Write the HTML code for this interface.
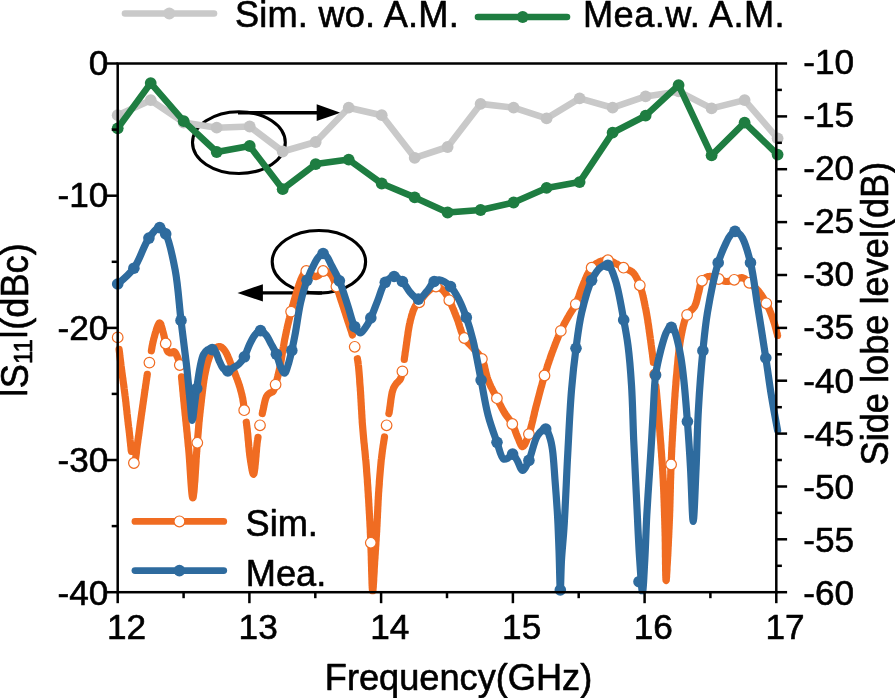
<!DOCTYPE html>
<html lang="en"><head><meta charset="utf-8"><title>S11 and side lobe level</title>
<style>html,body{margin:0;padding:0;background:#fff}body{width:895px;height:698px;overflow:hidden}svg{display:block}</style></head>
<body>
<svg width="895" height="698" viewBox="0 0 895 698" font-family="'Liberation Sans', Arial, Helvetica, sans-serif" fill="#000">
<rect width="895" height="698" fill="#fff"/>
<defs><clipPath id="pc"><rect x="111.7" y="63.5" width="670.6" height="530.7"/></clipPath></defs>
<g stroke="#000" stroke-width="3.1" fill="none">
<ellipse cx="238.9" cy="142.6" rx="46.4" ry="30.9"/>
<ellipse cx="318.9" cy="261.8" rx="46.7" ry="31.3"/>
<path d="M238,112.7H320" stroke-width="3.4"/>
<path d="M322,292.9H260" stroke-width="3.4"/>
</g>
<path d="M340.5,112.7L316.7,104.3V121.1Z"/>
<path d="M237.5,292.9L262.9,284.2V301.6Z"/>
<path d="M117.7,115.2 L150.7,100.2 L183.7,122.5 L216.7,127.7 L249.7,126.5 L282.7,151.5 L315.7,142.0 L348.7,107.7 L381.7,115.2 L414.7,157.8 L447.6,147.0 L480.6,103.9 L513.6,107.7 L546.6,118.4 L579.6,98.4 L612.6,107.7 L645.6,96.4 L678.6,91.4 L711.6,108.4 L744.6,100.1 L777.6,138.3" fill="none" stroke="#c9c9c9" stroke-width="6.6" stroke-linejoin="round" stroke-linecap="round"/>
<g fill="#c3c3c3"><circle cx="117.7" cy="115.2" r="5.9"/><circle cx="150.7" cy="100.2" r="5.9"/><circle cx="183.7" cy="122.5" r="5.9"/><circle cx="216.7" cy="127.7" r="5.9"/><circle cx="249.7" cy="126.5" r="5.9"/><circle cx="282.7" cy="151.5" r="5.9"/><circle cx="315.7" cy="142.0" r="5.9"/><circle cx="348.7" cy="107.7" r="5.9"/><circle cx="381.7" cy="115.2" r="5.9"/><circle cx="414.7" cy="157.8" r="5.9"/><circle cx="447.6" cy="147.0" r="5.9"/><circle cx="480.6" cy="103.9" r="5.9"/><circle cx="513.6" cy="107.7" r="5.9"/><circle cx="546.6" cy="118.4" r="5.9"/><circle cx="579.6" cy="98.4" r="5.9"/><circle cx="612.6" cy="107.7" r="5.9"/><circle cx="645.6" cy="96.4" r="5.9"/><circle cx="678.6" cy="91.4" r="5.9"/><circle cx="711.6" cy="108.4" r="5.9"/><circle cx="744.6" cy="100.1" r="5.9"/><circle cx="777.6" cy="138.3" r="5.9"/></g>
<path d="M117.7,128.3 L150.7,83.1 L183.7,121.2 L216.7,152.0 L249.7,146.0 L282.7,189.2 L315.7,164.1 L348.7,159.6 L381.7,183.5 L414.7,197.4 L447.6,212.5 L480.6,210.0 L513.6,202.5 L546.6,187.9 L579.6,182.1 L612.6,132.7 L645.6,115.7 L678.6,85.1 L711.6,155.3 L744.6,122.7 L777.6,154.6" fill="none" stroke="#1e7d41" stroke-width="6.6" stroke-linejoin="round" stroke-linecap="round"/>
<g fill="#1e7d41"><circle cx="117.7" cy="128.3" r="5.9"/><circle cx="150.7" cy="83.1" r="5.9"/><circle cx="183.7" cy="121.2" r="5.9"/><circle cx="216.7" cy="152.0" r="5.9"/><circle cx="249.7" cy="146.0" r="5.9"/><circle cx="282.7" cy="189.2" r="5.9"/><circle cx="315.7" cy="164.1" r="5.9"/><circle cx="348.7" cy="159.6" r="5.9"/><circle cx="381.7" cy="183.5" r="5.9"/><circle cx="414.7" cy="197.4" r="5.9"/><circle cx="447.6" cy="212.5" r="5.9"/><circle cx="480.6" cy="210.0" r="5.9"/><circle cx="513.6" cy="202.5" r="5.9"/><circle cx="546.6" cy="187.9" r="5.9"/><circle cx="579.6" cy="182.1" r="5.9"/><circle cx="612.6" cy="132.7" r="5.9"/><circle cx="645.6" cy="115.7" r="5.9"/><circle cx="678.6" cy="85.1" r="5.9"/><circle cx="711.6" cy="155.3" r="5.9"/><circle cx="744.6" cy="122.7" r="5.9"/><circle cx="777.6" cy="154.6" r="5.9"/></g>
<path clip-path="url(#pc)" d="M119.1,349.4 L119.3,350.9 L119.5,352.5 L119.7,354.0 L119.8,355.6 L120.0,357.1 L120.2,358.6 L120.4,360.1 L120.6,361.5 L120.7,362.9 L120.9,364.2 L121.0,365.4 L121.2,366.5 L121.3,367.6 L121.5,368.8 L121.6,369.9 L121.8,371.0 L121.9,372.2 L122.1,373.3 L122.2,374.4 L122.4,375.6 L122.5,376.7 L122.7,377.9 L122.9,379.0 L123.0,380.2 L123.2,381.3 L123.3,382.5 L123.5,383.6 L123.7,384.8 L123.8,385.9 L124.0,387.1 L124.1,388.3 L124.3,389.5 L124.4,390.6 L124.6,391.8 L124.7,393.0 L124.9,394.2 L125.0,395.4 L125.2,396.5 L125.3,397.6 L125.5,398.8 L125.6,399.9 L125.7,401.1 L125.9,402.2 L126.0,403.4 L126.1,404.5 L126.2,405.7 L126.4,406.8 L126.5,408.0 L126.6,409.2 L126.8,410.4 L126.9,411.5 L127.0,412.7 L127.1,413.9 L127.3,415.1 L127.4,416.2 L127.5,417.4 L127.7,418.6 L127.8,419.8 L127.9,421.0 L128.1,422.2 L128.2,423.3 L128.3,424.5 L128.5,425.7 L128.6,426.9 L128.8,428.0 L128.9,429.2 L129.1,430.4 L129.2,431.6 L129.4,432.9 L129.5,434.3 L129.7,435.7 L129.8,437.1 L130.0,438.6 L130.1,440.1 L130.3,441.7 L130.5,443.2 L130.6,444.8 L130.8,446.3 L131.0,447.9 L131.1,449.4 L131.3,450.9 L131.4,451.4M133.1,463.4 L133.3,464.0 L133.5,464.5 L133.6,464.8 L133.8,465.0 L134.0,465.0 L134.2,464.8 L134.4,464.5 L134.5,463.9 L134.7,463.2 L134.9,462.3 L135.1,461.3 L135.3,460.2 L135.5,459.0 L135.7,457.7 L135.9,456.3 L136.1,454.9 L136.3,453.4 L136.5,451.9 L136.6,450.3 L136.8,448.8 L137.0,447.3 L137.2,445.8 L137.4,444.3 L137.6,442.9 L137.8,441.6 L137.9,440.4 L138.1,439.2 L138.3,438.1 L138.4,436.9 L138.6,435.8 L138.8,434.6 L138.9,433.5 L139.1,432.4 L139.2,431.2 L139.4,430.1 L139.5,428.9 L139.7,427.8 L139.8,426.6 L140.0,425.5 L140.1,424.4 L140.3,423.2 L140.4,422.1 L140.6,420.9 L140.8,419.8 L140.9,418.6 L141.1,417.5 L141.2,416.3 L141.4,415.2 L141.6,414.0 L141.7,412.9 L141.9,411.7 L142.1,410.6 L142.2,409.4 L142.4,408.2 L142.6,407.0 L142.7,405.8 L142.9,404.7 L143.1,403.5 L143.2,402.3 L143.4,401.1 L143.6,400.0 L143.7,398.8 L143.9,397.7 L144.1,396.5 L144.2,395.4 L144.4,394.3 L144.5,393.2 L144.7,392.1 L144.8,391.0 L145.0,390.0 L145.2,388.8 L145.4,387.5 L145.5,386.3 L145.7,385.1 L145.9,383.9 L146.1,382.8 L146.2,381.6 L146.4,380.4 L146.6,379.3 L146.7,378.2 L146.9,377.1 L147.1,376.0 L147.2,375.0 L147.3,374.3M151.4,350.8 L151.6,349.5 L151.8,348.3 L152.0,347.1 L152.2,345.8 L152.5,344.6 L152.7,343.4 L153.0,342.3 L153.2,341.2 L153.5,340.1 L153.7,339.0 L154.0,338.0 L154.4,336.7 L154.7,335.4 L155.1,334.0 L155.5,332.5 L156.0,331.1 L156.4,329.7 L156.8,328.3 L157.3,327.0 L157.7,325.9 L158.2,324.9 L158.6,324.1 L159.0,323.4 L159.3,323.0 L159.7,322.9 L160.1,323.1 L160.6,323.7 L161.0,324.7 L161.3,325.8 L161.7,327.1 L162.1,328.5 L162.4,329.9 L162.8,331.2 L163.1,332.3 L163.4,333.4 L163.7,334.5 L164.0,335.6 L164.2,336.7 L164.5,337.8 L164.7,338.9 L164.9,340.0 L165.2,341.1 L165.4,342.1 L165.6,343.2 L165.9,344.3 L166.1,345.5 L166.3,346.7 L166.4,347.8 L166.7,348.9 L166.9,349.9 L167.3,350.8 L167.7,351.5 L168.5,352.2 L169.4,352.7 L170.4,353.0 L171.3,353.0 L172.2,352.4 L173.1,351.7 L174.0,351.5 L174.6,351.9 L175.2,352.6 L175.8,353.5 L176.3,354.6 L176.8,355.7 L177.3,356.6 L177.6,357.4 L178.0,358.3 L178.3,359.2 L178.6,360.2 L178.9,361.3 L179.2,362.4 L179.5,363.6 L179.7,364.5M181.5,376.8 L181.6,378.0 L181.7,379.2 L181.9,380.4 L182.0,381.7 L182.1,382.9 L182.2,384.2 L182.4,385.4 L182.5,386.7 L182.6,388.0 L182.7,389.3 L182.8,390.6 L183.0,391.9 L183.1,393.2 L183.2,394.6 L183.3,395.9 L183.5,397.2 L183.6,398.5 L183.7,399.7 L183.8,401.0 L184.0,402.3 L184.1,403.4 L184.2,404.5 L184.3,405.6 L184.4,406.8 L184.5,407.9 L184.7,409.0 L184.8,410.2 L184.9,411.3 L185.0,412.5 L185.1,413.6 L185.2,414.8 L185.4,416.0 L185.5,417.1 L185.6,418.3 L185.7,419.5 L185.8,420.7 L186.0,421.9 L186.1,423.1 L186.2,424.3 L186.3,425.5 L186.5,426.7 L186.6,427.9 L186.7,429.1 L186.8,430.3 L186.9,431.5 L187.1,432.7 L187.2,433.9 L187.3,435.1 L187.4,436.4 L187.5,437.6 L187.7,438.8 L187.8,440.0 L187.9,441.2 L188.0,442.4 L188.1,443.5 L188.2,444.7 L188.3,445.9 L188.5,447.1 L188.6,448.3 L188.7,449.4 L188.8,450.6 L188.9,451.8 L189.0,452.9 L189.1,454.1 L189.2,455.4 L189.3,456.8 L189.4,458.1 L189.5,459.6 L189.6,461.0 L189.7,462.5 L189.8,464.0 L189.9,465.5 L190.0,467.1 L190.1,468.7 L190.2,470.2 L190.3,471.8 L190.4,473.4 L190.5,474.9 L190.6,476.5 L190.7,478.0 L190.8,479.5 L190.9,481.0 L191.0,482.4 L191.1,483.9 L191.2,485.2 L191.3,486.6 L191.4,487.8 L191.5,489.1 L191.6,490.2 L191.7,491.3 L191.8,492.4 L191.9,493.4 L192.0,494.2 L192.1,495.0 L192.2,495.8 L192.3,496.4 L192.4,496.9 L192.5,497.4 L192.6,497.7 L192.7,497.9 L192.8,498.0 L192.9,498.0 L193.0,497.8 L193.1,497.5 L193.2,497.1 L193.3,496.5 L193.4,495.9 L193.5,495.1 L193.6,494.2 L193.7,493.3 L193.9,492.2 L194.0,491.1 L194.1,489.9 L194.2,488.6 L194.3,487.3 L194.4,485.9 L194.5,484.4 L194.6,482.9 L194.8,481.4 L194.9,479.9 L195.0,478.3 L195.1,476.7 L195.2,475.1 L195.3,473.5 L195.4,471.9 L195.5,470.3 L195.6,468.7 L195.7,467.2 L195.8,465.7 L195.9,464.2 L196.0,462.7 L196.1,461.3 L196.1,460.0 L196.2,458.7 L196.3,457.5 L196.4,456.3 L196.4,455.3 L196.5,454.3 L196.6,453.4 L196.6,452.4 L196.8,451.1 L196.8,449.9 L196.9,448.9 L197.0,447.9 L197.0,447.0 L197.1,446.0 L197.2,444.9 L197.2,443.7 L197.3,442.5 L197.4,441.6 L197.5,440.7 L197.5,439.8 L197.6,438.8 L197.7,437.8 L197.8,436.7 L197.9,435.6 L198.0,434.5 L198.1,433.4 L198.2,432.2 L198.3,431.0 L198.4,429.8 L198.5,428.6 L198.6,427.4 L198.7,426.1 L198.8,424.9 L198.9,423.6 L199.0,422.3 L199.2,421.0 L199.3,419.8 L199.4,418.5 L199.5,417.2 L199.7,416.0 L199.8,414.7 L199.9,413.5 L200.1,412.2 L200.2,411.0 L200.3,409.8 L200.5,408.7 L200.6,407.5 L200.7,406.4 L200.9,405.2 L201.0,404.0 L201.1,402.8 L201.3,401.6 L201.4,400.3 L201.5,399.1 L201.7,397.9 L201.8,396.6 L202.0,395.4 L202.1,394.2 L202.3,392.9 L202.4,391.7 L202.6,390.4 L202.7,389.2 L202.9,388.0 L203.0,386.8 L203.2,385.6 L203.3,384.4 L203.5,383.2 L203.7,382.1 L203.8,380.9 L204.0,379.8 L204.2,378.7 L204.4,377.6 L204.5,376.6 L204.7,375.5 L204.9,374.5 L205.1,373.6 L205.3,372.6 L205.6,371.3 L205.9,370.0 L206.1,368.7 L206.4,367.5 L206.7,366.3 L207.0,365.1 L207.3,363.9 L207.6,362.8 L207.9,361.7 L208.3,360.6 L208.6,359.6 L208.9,358.6 L209.3,357.6 L209.6,356.7 L210.0,355.8 L210.4,355.0 L211.0,353.9 L211.6,352.8 L212.1,351.8 L212.8,350.9 L213.4,350.1 L214.1,349.4 L214.8,348.7 L215.6,348.0 L216.6,347.4 L217.6,346.9 L218.6,346.5 L219.6,346.5 L220.5,346.7 L221.3,347.1 L222.2,347.7 L223.0,348.5 L223.8,349.4 L224.5,350.3 L225.2,351.3 L225.7,352.0 L226.2,352.9 L226.7,353.8 L227.2,354.8 L227.6,355.8 L228.1,356.9 L228.5,358.0 L229.0,359.1 L229.4,360.2 L229.9,361.4 L230.4,362.6 L230.8,363.5 L231.2,364.5 L231.6,365.5 L232.1,366.5 L232.5,367.6 L233.0,368.7 L233.4,369.8 L233.9,370.9 L234.4,372.1 L234.8,373.2 L235.3,374.4 L235.7,375.6 L236.2,376.7 L236.6,377.9 L237.1,379.0 L237.5,380.1 L237.9,381.3 L238.3,382.3 L238.6,383.4 L239.0,384.4 L239.3,385.5 L239.7,386.7 L240.1,387.9 L240.4,389.1 L240.7,390.2 L241.0,391.3 L241.3,392.5 L241.6,393.6 L241.9,394.7 L242.1,395.7 L242.3,396.8 L242.6,397.8 L242.8,398.9 L242.9,399.9 L243.1,401.0 L243.3,402.2 L243.5,403.3 L243.6,404.3 L243.7,405.4 L243.8,406.4 L243.9,407.5 L244.0,408.6 L244.1,409.8 L244.1,409.8M246.3,422.2 L246.5,423.5 L246.6,424.8 L246.8,425.9 L246.9,426.9 L247.0,427.9 L247.2,429.0 L247.3,430.1 L247.4,431.3 L247.5,432.4 L247.7,433.6 L247.8,434.9 L247.9,436.1 L248.0,437.4 L248.1,438.7 L248.2,439.9 L248.4,441.2 L248.5,442.5 L248.6,443.8 L248.7,445.1 L248.8,446.4 L249.0,447.7 L249.1,448.9 L249.2,450.2 L249.3,451.4 L249.5,452.6 L249.6,453.8 L249.7,454.9 L249.9,456.1 L250.0,457.1 L250.2,458.2 L250.3,459.2 L250.5,460.1 L250.6,461.3 L250.9,462.8 L251.1,464.3 L251.4,465.8 L251.6,467.3 L251.9,468.8 L252.1,470.1 L252.4,471.3 L252.6,472.3 L252.9,473.2 L253.1,473.8 L253.4,474.1 L253.6,474.2 L253.7,474.0 L253.9,473.7 L254.0,473.2 L254.2,472.6 L254.3,471.9 L254.4,471.0 L254.6,470.0 L254.7,469.0 L254.9,467.8 L255.0,466.5 L255.1,465.2 L255.3,463.8 L255.4,462.3 L255.6,460.8 L255.7,459.3 L255.8,457.8 L256.0,456.2 L256.1,454.6 L256.2,453.1 L256.4,451.5 L256.5,450.0 L256.6,448.5 L256.7,447.1 L256.9,445.7 L257.0,444.4 L257.1,443.2 L257.3,442.0 L257.4,440.9 L257.6,439.9 L257.8,438.6 L258.0,437.3 L258.0,437.3M262.3,413.5 L262.5,412.4 L262.8,411.3 L263.0,410.2 L263.3,409.1 L263.5,407.9 L263.8,406.7 L264.0,405.4 L264.3,404.2 L264.5,403.0 L264.8,401.8 L265.1,400.6 L265.4,399.5 L265.7,398.5 L266.1,397.6 L266.4,396.7 L266.8,396.0 L267.5,395.0 L268.2,394.3 L269.0,393.7 L269.7,393.2 L270.6,392.7 L271.6,392.3 L272.5,391.9 L273.2,391.3 L273.6,390.5 L274.0,389.6 L274.4,388.6 L274.8,387.5 L275.1,386.3 L275.5,385.0 L275.8,384.0 L276.1,383.1 L276.3,382.2 L276.6,381.2 L276.9,380.2 L277.1,379.1 L277.4,378.0 L277.7,376.9 L278.0,375.8 L278.2,374.6 L278.5,373.4 L278.8,372.2 L279.1,370.9 L279.4,369.7 L279.6,368.8 L279.8,367.8 L280.0,366.8 L280.2,365.7 L280.4,364.7 L280.6,363.6 L280.8,362.5 L281.0,361.3 L281.2,360.1 L281.4,358.9 L281.6,357.7 L281.8,356.5 L282.0,355.3 L282.2,354.1 L282.4,352.8 L282.6,351.6 L282.8,350.3 L283.0,349.1 L283.2,347.8 L283.5,346.6 L283.7,345.3 L283.9,344.1 L284.1,342.9 L284.3,341.7 L284.5,340.5 L284.7,339.4 L285.0,338.2 L285.2,337.1 L285.4,336.1 L285.6,335.0 L285.9,333.8 L286.1,332.6 L286.4,331.4 L286.6,330.2 L286.9,329.0 L287.1,327.9 L287.4,326.8 L287.6,325.6 L287.9,324.5 L288.2,323.4 L288.4,322.3 L288.7,321.3 L288.9,320.2 L289.2,319.1 L289.5,318.0 L289.7,316.9 L290.0,315.8 L290.3,314.6 L290.6,313.5 L290.9,312.4 L291.2,311.2 L291.5,310.1 L291.8,309.0 L292.1,307.9 L292.4,306.7 L292.8,305.5 L293.1,304.4 L293.4,303.2 L293.8,302.0 L294.1,300.8 L294.4,299.6 L294.8,298.4 L295.1,297.2 L295.5,296.0 L295.8,294.9 L296.1,293.7 L296.5,292.6 L296.8,291.5 L297.1,290.4 L297.5,289.4 L297.8,288.4 L298.1,287.4 L298.4,286.5 L298.7,285.6 L299.1,284.5 L299.5,283.2 L299.9,282.1 L300.4,280.9 L300.8,279.9 L301.2,278.8 L301.6,277.9 L302.0,277.0 L302.4,276.1 L302.9,275.3 L303.4,274.3 L304.0,273.3 L304.6,272.3 L305.3,271.5 L306.0,271.1 L306.8,271.0 L307.7,271.5 L308.6,272.2 L309.5,273.1 L310.4,273.9 L311.3,274.5 L312.2,275.1 L313.0,275.7 L313.9,276.2 L314.7,276.5 L315.6,276.6 L316.6,276.4 L317.5,276.1 L318.5,275.6 L319.2,275.0 L320.0,274.1 L320.7,273.1 L321.4,272.2 L322.2,271.4 L323.1,271.0 L324.1,270.9 L325.1,271.0 L326.2,271.3 L327.3,271.7 L328.4,272.3 L329.4,273.0 L330.2,273.7 L330.8,274.4 L331.4,275.2 L332.0,276.1 L332.5,277.0 L333.0,278.1 L333.5,279.2 L334.0,280.3 L334.5,281.5 L334.9,282.6 L335.4,283.8 L335.8,285.0 L336.3,286.1 L336.7,287.2 L337.1,288.2 L337.5,289.2 L337.8,290.3 L338.2,291.3 L338.6,292.4 L338.9,293.5 L339.3,294.6 L339.6,295.7 L340.0,296.8 L340.3,297.9 L340.7,299.0 L341.0,300.1 L341.4,301.2 L341.8,302.3 L342.1,303.4 L342.5,304.4 L342.8,305.5 L343.2,306.6 L343.6,307.7 L343.9,308.8 L344.3,309.9 L344.6,311.0 L345.0,312.1 L345.4,313.2 L345.7,314.3 L346.1,315.4 L346.4,316.5 L346.8,317.6 L347.1,318.6 L347.5,319.7 L347.8,320.8 L348.2,321.9 L348.6,323.0 L348.9,324.1 L349.3,325.2 L349.7,326.4 L350.1,327.5 L350.4,328.6 L350.8,329.7 L351.2,330.8 L351.5,331.8 L351.8,332.9 L352.1,334.0 L352.4,335.0 L352.4,335.0M357.4,358.7 L357.6,359.9 L357.8,361.0 L357.9,362.0 L358.1,363.0 L358.2,364.0 L358.3,365.1 L358.5,366.1 L358.6,367.2 L358.7,368.3 L358.8,369.5 L358.9,370.6 L359.0,371.8 L359.1,372.9 L359.2,374.1 L359.3,375.3 L359.4,376.5 L359.5,377.7 L359.6,379.0 L359.7,380.3 L359.7,381.5 L359.8,382.8 L359.9,384.1 L360.0,385.3 L360.1,386.4 L360.2,387.4 L360.3,388.5 L360.3,389.6 L360.4,390.6 L360.5,391.8 L360.6,392.9 L360.6,394.0 L360.7,395.1 L360.8,396.3 L360.8,397.5 L360.9,398.6 L361.0,399.8 L361.0,401.0 L361.1,402.2 L361.2,403.4 L361.2,404.6 L361.3,405.8 L361.4,407.0 L361.4,408.3 L361.5,409.5 L361.6,410.7 L361.7,411.9 L361.7,413.2 L361.8,414.4 L361.9,415.6 L361.9,416.8 L362.0,418.1 L362.1,419.3 L362.2,420.5 L362.2,421.7 L362.3,422.9 L362.4,424.1 L362.5,425.3 L362.6,426.4 L362.7,427.6 L362.8,428.8 L362.9,430.0 L363.0,431.1 L363.1,432.3 L363.2,433.5 L363.3,434.6 L363.4,435.8 L363.5,436.9 L363.6,438.1 L363.7,439.2 L363.8,440.4 L363.9,441.5 L364.0,442.7 L364.2,443.8 L364.3,445.0 L364.4,446.1 L364.5,447.3 L364.6,448.4 L364.7,449.6 L364.9,450.7 L365.0,451.9 L365.1,453.1 L365.2,454.2 L365.3,455.4 L365.4,456.6 L365.5,457.7 L365.6,458.9 L365.8,460.1 L365.9,461.3 L366.0,462.5 L366.1,463.7 L366.2,464.9 L366.3,466.1 L366.4,467.4 L366.5,468.6 L366.6,469.7 L366.6,470.9 L366.7,472.0 L366.8,473.2 L366.9,474.4 L367.0,475.6 L367.1,476.8 L367.2,478.0 L367.3,479.2 L367.4,480.4 L367.4,481.7 L367.5,482.9 L367.6,484.2 L367.7,485.4 L367.8,486.7 L367.9,488.0 L367.9,489.2 L368.0,490.5 L368.1,491.8 L368.2,493.1 L368.3,494.3 L368.3,495.6 L368.4,496.9 L368.5,498.1 L368.6,499.4 L368.7,500.6 L368.7,501.8 L368.8,503.1 L368.9,504.3 L368.9,505.5 L369.0,506.7 L369.1,507.9 L369.1,509.0 L369.2,510.2 L369.3,511.3 L369.3,512.5 L369.4,513.6 L369.5,514.6 L369.5,515.7 L369.6,516.7 L369.6,517.8 L369.7,518.8 L369.7,519.7 L369.8,520.7 L369.9,521.9 L369.9,523.2 L370.0,524.5 L370.0,525.7 L370.1,526.8 L370.2,527.9 L370.2,529.0 L370.3,530.0 L370.3,531.1 L370.3,532.1 L370.4,533.1 L370.4,534.2 L370.5,535.2 L370.5,536.3 L370.6,537.4 L370.6,538.6 L370.7,539.8 L370.7,541.0 L370.8,542.3 L370.8,543.5 L370.9,544.5 L370.9,545.6 L371.0,546.8 L371.0,548.0 L371.0,549.3 L371.1,550.7 L371.1,552.1 L371.2,553.5 L371.2,555.0 L371.3,556.5 L371.3,558.0 L371.3,559.6 L371.4,561.1 L371.4,562.7 L371.5,564.3 L371.5,565.9 L371.6,567.5 L371.6,569.0 L371.6,570.6 L371.7,572.1 L371.7,573.6 L371.8,575.1 L371.8,576.6 L371.9,578.0 L371.9,579.4 L372.0,580.7 L372.0,582.0 L372.0,583.2 L372.1,584.3 L372.1,585.4 L372.2,586.4 L372.2,587.3 L372.3,588.1 L372.3,588.9 L372.4,589.5 L372.5,590.1 L372.5,590.5 L372.6,590.9 L372.6,591.1 L372.7,591.2 L372.7,591.2 L372.8,591.0 L372.9,590.6 L373.0,590.1 L373.0,589.4 L373.1,588.6 L373.2,587.7 L373.3,586.7 L373.3,585.6 L373.4,584.4 L373.5,583.1 L373.6,581.7 L373.7,580.3 L373.7,578.8 L373.8,577.3 L373.9,575.8 L374.0,574.2 L374.1,572.7 L374.2,571.1 L374.2,569.6 L374.3,568.0 L374.4,566.6 L374.5,565.1 L374.6,563.7 L374.6,562.4 L374.7,561.2 L374.8,560.0 L374.9,558.8 L375.0,557.6 L375.0,556.4 L375.1,555.3 L375.2,554.1 L375.3,553.0 L375.3,551.9 L375.4,550.8 L375.5,549.7 L375.6,548.6 L375.6,547.5 L375.7,546.4 L375.8,545.3 L375.9,544.1 L375.9,543.0 L376.0,541.8 L376.1,540.7 L376.2,539.5 L376.2,538.3 L376.3,537.0 L376.4,535.7 L376.5,534.4 L376.5,533.3 L376.6,532.3 L376.7,531.2 L376.7,530.2 L376.8,529.1 L376.8,528.0 L376.9,526.8 L377.0,525.7 L377.0,524.5 L377.1,523.3 L377.1,522.1 L377.2,520.9 L377.2,519.7 L377.3,518.5 L377.4,517.3 L377.4,516.1 L377.5,514.8 L377.5,513.6 L377.6,512.3 L377.7,511.1 L377.7,509.8 L377.8,508.6 L377.8,507.3 L377.9,506.1 L378.0,504.8 L378.0,503.6 L378.1,502.3 L378.1,501.1 L378.2,499.9 L378.3,498.7 L378.3,497.5 L378.4,496.3 L378.5,495.1 L378.5,494.0 L378.6,492.8 L378.7,491.7 L378.8,490.6 L378.8,489.5 L378.9,488.4 L379.0,487.3 L379.1,486.1 L379.2,484.9 L379.3,483.6 L379.3,482.3 L379.4,481.1 L379.5,479.9 L379.6,478.7 L379.7,477.5 L379.8,476.3 L379.9,475.1 L380.0,473.9 L380.1,472.7 L380.2,471.6 L380.3,470.5 L380.4,469.3 L380.5,468.2 L380.6,467.1 L380.7,466.0 L380.8,464.9 L380.9,463.8 L381.0,462.7 L381.1,461.6 L381.2,460.5 L381.3,459.4 L381.5,458.4 L381.6,457.2 L381.8,455.9 L381.9,454.7 L382.1,453.5 L382.2,452.3 L382.4,451.0 L382.5,449.8 L382.7,448.7 L382.9,447.5 L383.0,446.3 L383.2,445.2 L383.4,444.0 L383.6,442.9 L383.7,441.8 L383.9,440.8 L384.1,439.7 L384.2,438.7 L384.4,437.7 L384.5,437.0M388.9,413.5 L389.2,412.4 L389.3,411.3 L389.5,410.2 L389.7,409.1 L389.8,407.9 L390.0,406.7 L390.2,405.4 L390.3,404.2 L390.5,402.9 L390.7,401.6 L390.8,400.3 L391.0,399.1 L391.2,397.8 L391.4,396.6 L391.6,395.4 L391.8,394.3 L392.0,393.3 L392.2,392.2 L392.5,391.3 L392.7,390.5 L393.1,389.4 L393.5,388.2 L394.0,387.2 L394.5,386.3 L395.0,385.4 L395.6,384.6 L396.2,383.7 L396.9,382.9 L397.6,382.2 L398.4,381.5 L399.1,380.7 L399.8,379.9 L400.4,379.0 L400.8,378.1 L401.1,377.2 L401.4,376.2 L401.6,375.2 L401.8,374.2 L402.1,373.1 L402.3,371.8 L402.3,371.8M404.3,359.5 L404.4,358.3 L404.6,357.0 L404.8,355.8 L405.0,354.5 L405.1,353.2 L405.3,351.9 L405.5,350.8 L405.7,349.7 L405.8,348.7 L406.0,347.5 L406.1,346.4 L406.3,345.2 L406.5,344.0 L406.6,342.8 L406.8,341.6 L407.0,340.4 L407.1,339.1 L407.3,337.9 L407.5,336.6 L407.7,335.4 L407.9,334.2 L408.0,332.9 L408.2,331.7 L408.4,330.5 L408.6,329.3 L408.8,328.1 L409.0,327.0 L409.2,325.9 L409.4,324.8 L409.6,323.7 L409.9,322.7 L410.1,321.7 L410.3,320.7 L410.6,319.5 L411.0,318.2 L411.3,317.0 L411.6,315.7 L412.0,314.5 L412.4,313.3 L412.7,312.2 L413.1,311.1 L413.5,310.0 L413.9,309.1 L414.3,308.1 L414.7,307.3 L415.1,306.5 L415.6,305.7 L416.4,304.8 L417.1,304.2 L417.9,303.6 L418.7,302.9 L419.4,302.1 L420.0,301.3 L420.6,300.5 L421.3,299.6 L422.0,298.6 L422.6,297.7 L423.4,296.7 L424.1,295.7 L424.9,294.8 L425.6,293.9 L426.4,293.1 L427.3,292.3 L428.2,291.4 L429.1,290.6 L430.0,289.8 L431.0,289.0 L432.0,288.2 L432.9,287.6 L433.9,287.1 L434.8,286.7 L435.7,286.5 L436.7,286.5 L437.7,286.7 L438.7,287.1 L439.6,287.6 L440.6,288.3 L441.5,289.0 L442.4,289.8 L443.2,290.5 L443.9,291.3 L444.5,292.1 L445.2,292.9 L445.8,293.8 L446.3,294.7 L446.9,295.7 L447.5,296.7 L448.0,297.8 L448.6,298.8 L449.1,299.9 L449.6,300.9 L450.1,301.8 L450.5,302.8 L451.0,303.8 L451.5,304.8 L451.9,305.8 L452.4,306.9 L452.8,308.0 L453.3,309.0 L453.7,310.1 L454.2,311.2 L454.6,312.4 L455.1,313.5 L455.5,314.6 L455.9,315.7 L456.4,316.8 L456.8,317.9 L457.2,318.9 L457.6,320.0 L458.0,321.1 L458.4,322.2 L458.7,323.4 L459.1,324.5 L459.5,325.7 L459.8,326.8 L460.2,328.0 L460.6,329.1 L460.9,330.3 L461.3,331.4 L461.7,332.5 L462.1,333.5 L462.6,334.6 L463.0,335.6 L463.5,336.5 L464.0,337.4 L464.5,338.4 L465.2,339.4 L465.9,340.3 L466.6,341.2 L467.4,342.1 L468.2,342.9 L468.9,343.7 L469.7,344.5 L470.5,345.3 L471.3,346.1 L472.1,346.9 L472.9,347.7 L473.6,348.6 L474.3,349.4 L475.1,350.2 L475.8,351.0 L476.6,351.9 L477.4,352.7 L478.1,353.6 L478.8,354.4 L479.5,355.3 L480.2,356.3 L480.9,357.3 L481.5,358.3 L482.1,359.3 L482.5,360.2 L482.9,361.2 L483.3,362.3 L483.6,363.3 L484.0,364.4 L484.3,365.5 L484.6,366.7 L484.8,367.8 L485.1,369.0 L485.4,370.2 L485.6,371.3 L485.9,372.5 L486.2,373.7 L486.5,374.9 L486.8,376.0 L487.1,377.2 L487.5,378.3 L487.8,379.4 L488.2,380.5 L488.7,381.6 L489.2,382.7 L489.6,383.7 L490.1,384.8 L490.6,385.9 L491.1,387.0 L491.7,388.0 L492.2,389.1 L492.7,390.1 L493.2,391.1 L493.8,392.2 L494.3,393.2 L494.8,394.2 L495.4,395.2 L495.9,396.2 L496.4,397.2 L496.9,398.2 L497.4,399.3 L498.0,400.3 L498.5,401.4 L499.0,402.4 L499.5,403.5 L500.1,404.5 L500.6,405.5 L501.1,406.5 L501.6,407.5 L502.1,408.5 L502.7,409.5 L503.2,410.5 L503.8,411.4 L504.3,412.4 L504.9,413.4 L505.6,414.4 L506.2,415.3 L506.9,416.2 L507.6,417.1 L508.3,418.0 L509.0,419.0 L509.6,419.9 L510.3,420.8 L510.9,421.7 L511.5,422.7 L512.1,423.7 L512.6,424.7 L513.1,425.7 L513.6,426.7 L514.0,427.8 L514.5,428.9 L514.9,430.0 L515.3,431.1 L515.7,432.2 L516.1,433.3 L516.5,434.3 L516.9,435.4 L517.3,436.4 L517.7,437.4 L518.2,438.4 L518.7,439.6 L519.2,441.0 L519.7,442.3 L520.3,443.5 L520.8,444.7 L521.3,445.6 L521.9,446.3 L522.4,446.6 L522.9,446.5 L523.4,446.2 L523.9,445.7 L524.5,444.9 L525.0,444.0 L525.5,442.9 L526.1,441.7 L526.6,440.4 L527.1,439.0 L527.6,437.7 L528.1,436.3 L528.6,435.0 L529.0,433.8 L529.3,432.9 L529.6,432.0 L530.0,431.0 L530.3,430.0 L530.6,428.9 L530.9,427.9 L531.2,426.8 L531.4,425.7 L531.7,424.6 L532.0,423.4 L532.3,422.2 L532.6,421.1 L532.9,419.9 L533.1,418.7 L533.4,417.5 L533.7,416.3 L534.0,415.1 L534.3,413.9 L534.5,412.7 L534.8,411.5 L535.1,410.3 L535.4,409.1 L535.7,407.9 L536.0,406.7 L536.3,405.6 L536.6,404.5 L536.9,403.3 L537.2,402.2 L537.5,401.1 L537.8,399.9 L538.1,398.8 L538.4,397.7 L538.7,396.5 L539.0,395.4 L539.3,394.2 L539.6,393.1 L539.9,391.9 L540.2,390.8 L540.5,389.6 L540.8,388.5 L541.1,387.3 L541.5,386.2 L541.8,385.1 L542.1,383.9 L542.4,382.8 L542.7,381.7 L543.0,380.6 L543.3,379.5 L543.7,378.4 L544.0,377.3 L544.3,376.2 L544.6,375.1 L545.0,374.0 L545.3,372.8 L545.7,371.7 L546.0,370.5 L546.4,369.4 L546.8,368.3 L547.1,367.2 L547.5,366.0 L547.8,364.9 L548.2,363.8 L548.6,362.7 L549.0,361.6 L549.3,360.5 L549.7,359.5 L550.1,358.4 L550.4,357.3 L550.8,356.2 L551.2,355.2 L551.6,354.1 L551.9,353.1 L552.3,352.0 L552.7,351.0 L553.1,349.9 L553.5,348.7 L554.0,347.6 L554.4,346.5 L554.8,345.4 L555.2,344.3 L555.6,343.2 L556.1,342.1 L556.5,341.0 L556.9,339.9 L557.4,338.8 L557.8,337.8 L558.2,336.7 L558.7,335.7 L559.1,334.6 L559.6,333.6 L560.0,332.6 L560.5,331.6 L561.0,330.5 L561.5,329.4 L562.0,328.4 L562.5,327.3 L563.1,326.3 L563.6,325.2 L564.1,324.2 L564.7,323.2 L565.2,322.1 L565.8,321.1 L566.3,320.2 L566.9,319.2 L567.4,318.2 L567.9,317.3 L568.5,316.3 L569.0,315.4 L569.6,314.4 L570.2,313.4 L570.8,312.4 L571.4,311.5 L572.0,310.6 L572.6,309.7 L573.2,308.8 L573.7,307.9 L574.3,306.9 L574.9,305.9 L575.4,304.8 L575.9,303.8 L576.4,302.8 L576.8,301.8 L577.2,300.8 L577.6,299.7 L578.0,298.7 L578.4,297.6 L578.8,296.5 L579.2,295.3 L579.6,294.2 L579.9,293.1 L580.3,291.9 L580.7,290.8 L581.1,289.7 L581.5,288.6 L581.9,287.5 L582.4,286.4 L582.8,285.3 L583.3,284.2 L583.7,283.1 L584.2,282.0 L584.7,280.9 L585.1,279.7 L585.6,278.6 L586.1,277.5 L586.6,276.3 L587.1,275.2 L587.6,274.2 L588.2,273.1 L588.7,272.1 L589.3,271.1 L589.8,270.2 L590.4,269.3 L591.0,268.5 L591.6,267.7 L592.4,266.8 L593.3,265.9 L594.2,265.1 L595.1,264.4 L596.0,263.7 L596.9,263.1 L597.9,262.6 L598.8,262.1 L599.8,261.7 L600.8,261.3 L601.8,260.9 L602.9,260.6 L603.9,260.3 L605.0,260.2 L606.1,260.1 L607.2,260.1 L608.2,260.3 L609.3,260.5 L610.3,260.8 L611.3,261.3 L612.4,261.8 L613.4,262.3 L614.4,262.8 L615.4,263.4 L616.4,263.8 L617.4,264.3 L618.3,264.9 L619.3,265.4 L620.2,265.9 L621.2,266.4 L622.1,267.0 L623.1,267.5 L624.1,268.0 L625.1,268.5 L626.1,268.9 L627.1,269.3 L628.2,269.8 L629.2,270.2 L630.2,270.7 L631.2,271.3 L632.2,271.9 L633.0,272.7 L633.7,273.4 L634.3,274.2 L635.0,275.1 L635.5,276.0 L636.1,277.0 L636.6,277.9 L637.2,279.0 L637.6,280.0 L638.1,281.1 L638.6,282.2 L639.0,283.4 L639.5,284.5 L639.9,285.6 L640.3,286.6 L640.6,287.6 L641.0,288.6 L641.3,289.6 L641.6,290.7 L641.9,291.8 L642.2,292.8 L642.5,294.0 L642.8,295.1 L643.0,296.2 L643.3,297.4 L643.6,298.6 L643.8,299.8 L644.1,300.9 L644.3,302.2 L644.6,303.4 L644.8,304.6 L645.1,305.8 L645.3,307.1 L645.6,308.3 L645.8,309.3 L646.0,310.4 L646.2,311.5 L646.4,312.6 L646.6,313.7 L646.8,314.8 L647.0,316.0 L647.2,317.1 L647.4,318.3 L647.6,319.5 L647.8,320.7 L647.9,321.8 L648.1,323.0 L648.3,324.2 L648.5,325.4 L648.7,326.6 L648.8,327.8 L649.0,329.0 L649.2,330.2 L649.3,331.4 L649.5,332.6 L649.7,333.8 L649.8,335.0 L650.0,336.2 L650.2,337.4 L650.3,338.6 L650.5,339.7 L650.7,340.9 L650.8,342.1 L651.0,343.2 L651.1,344.4 L651.3,345.5 L651.4,346.6 L651.6,347.8 L651.7,348.9 L651.9,350.0 L652.0,351.1 L652.2,352.2 L652.3,353.3 L652.5,354.5 L652.6,355.6 L652.7,356.7 L652.9,357.8 L653.0,359.0 L653.2,360.1 L653.3,361.3 L653.4,362.5 L653.4,362.5M655.9,386.3 L656.0,387.5 L656.1,388.7 L656.3,389.8 L656.4,391.0 L656.5,392.2 L656.6,393.4 L656.7,394.6 L656.8,395.8 L656.9,397.0 L657.0,398.2 L657.1,399.5 L657.2,400.7 L657.4,401.9 L657.5,403.1 L657.6,404.4 L657.7,405.6 L657.8,406.8 L657.9,408.0 L658.0,409.3 L658.1,410.5 L658.2,411.7 L658.3,412.9 L658.4,414.2 L658.5,415.4 L658.6,416.6 L658.7,417.8 L658.8,419.0 L658.9,420.2 L659.0,421.4 L659.1,422.6 L659.2,423.8 L659.3,425.0 L659.4,426.2 L659.5,427.4 L659.6,428.5 L659.7,429.7 L659.8,430.9 L659.9,432.1 L660.0,433.3 L660.0,434.4 L660.1,435.6 L660.2,436.8 L660.3,438.0 L660.4,439.2 L660.5,440.3 L660.6,441.5 L660.7,442.7 L660.8,443.9 L660.9,445.1 L661.0,446.2 L661.0,447.4 L661.1,448.6 L661.2,449.8 L661.3,450.9 L661.4,452.1 L661.5,453.3 L661.6,454.5 L661.6,455.7 L661.7,456.8 L661.8,458.0 L661.9,459.2 L662.0,460.4 L662.1,461.5 L662.1,462.7 L662.2,463.9 L662.3,465.1 L662.4,466.3 L662.5,467.4 L662.5,468.6 L662.6,469.8 L662.7,471.0 L662.8,472.1 L662.8,473.3 L662.9,474.5 L663.0,475.7 L663.0,476.8 L663.1,478.0 L663.2,479.2 L663.2,480.4 L663.3,481.6 L663.3,482.7 L663.4,483.9 L663.4,485.1 L663.5,486.3 L663.6,487.5 L663.6,488.7 L663.7,489.9 L663.7,491.0 L663.8,492.2 L663.8,493.4 L663.9,494.6 L663.9,495.8 L663.9,497.0 L664.0,498.2 L664.0,499.3 L664.1,500.5 L664.1,501.7 L664.2,502.9 L664.2,504.1 L664.2,505.3 L664.3,506.4 L664.3,507.6 L664.4,508.8 L664.4,510.0 L664.4,511.2 L664.5,512.3 L664.5,513.5 L664.5,514.7 L664.6,515.9 L664.6,517.1 L664.7,518.2 L664.7,519.4 L664.7,520.6 L664.8,521.8 L664.8,523.0 L664.8,524.1 L664.9,525.3 L664.9,526.5 L664.9,527.7 L665.0,528.8 L665.0,530.0 L665.0,531.2 L665.1,532.5 L665.1,533.8 L665.1,535.2 L665.2,536.6 L665.2,538.0 L665.2,539.5 L665.2,541.0 L665.3,542.5 L665.3,544.0 L665.3,545.6 L665.3,547.1 L665.3,548.7 L665.4,550.3 L665.4,551.9 L665.4,553.4 L665.4,555.0 L665.4,556.6 L665.5,558.1 L665.5,559.6 L665.5,561.1 L665.5,562.6 L665.5,564.0 L665.6,565.5 L665.6,566.8 L665.6,568.1 L665.6,569.4 L665.6,570.7 L665.7,571.8 L665.7,573.0 L665.7,574.0 L665.7,575.0 L665.8,575.9 L665.8,576.8 L665.8,577.5 L665.9,578.2 L665.9,578.8 L665.9,579.4 L666.0,579.8 L666.0,580.1 L666.0,580.3 L666.1,580.5 L666.1,580.5 L666.2,580.3 L666.3,579.9 L666.3,579.3 L666.4,578.5 L666.5,577.6 L666.6,576.5 L666.6,575.3 L666.7,573.9 L666.8,572.5 L666.9,571.1 L667.0,569.6 L667.0,568.0 L667.1,566.4 L667.2,564.9 L667.3,563.4 L667.4,561.9 L667.5,560.5 L667.5,559.3 L667.6,558.3 L667.6,557.3 L667.7,556.3 L667.8,555.2 L667.8,554.2 L667.9,553.1 L667.9,552.0 L668.0,550.9 L668.0,549.8 L668.1,548.7 L668.1,547.5 L668.2,546.4 L668.3,545.2 L668.3,544.0 L668.4,542.8 L668.4,541.6 L668.5,540.4 L668.5,539.2 L668.6,538.0 L668.7,536.8 L668.7,535.5 L668.8,534.3 L668.8,533.1 L668.9,531.8 L668.9,530.6 L669.0,529.3 L669.1,528.0 L669.1,526.8 L669.2,525.5 L669.2,524.2 L669.3,523.0 L669.3,521.7 L669.4,520.4 L669.4,519.3 L669.5,518.2 L669.5,517.1 L669.6,515.9 L669.6,514.8 L669.6,513.7 L669.7,512.5 L669.7,511.4 L669.8,510.2 L669.8,509.0 L669.8,507.8 L669.9,506.6 L669.9,505.4 L669.9,504.2 L670.0,503.0 L670.0,501.8 L670.0,500.6 L670.1,499.4 L670.1,498.2 L670.1,496.9 L670.2,495.7 L670.2,494.5 L670.2,493.2 L670.3,492.0 L670.3,490.8 L670.3,489.5 L670.4,488.3 L670.4,487.1 L670.4,485.9 L670.4,484.6 L670.5,483.4 L670.5,482.2 L670.5,481.0 L670.6,479.8 L670.6,478.6 L670.7,477.4 L670.7,476.2 L670.7,475.1 L670.8,473.9 L670.8,472.7 L670.8,471.6 L670.9,470.4 L670.9,469.3 L671.0,468.2 L671.0,467.1 L671.0,465.9 L671.1,464.9 L671.1,463.7 L671.2,462.4 L671.2,461.2 L671.3,459.9 L671.4,458.7 L671.4,457.5 L671.5,456.3 L671.5,455.1 L671.6,454.0 L671.6,452.8 L671.7,451.6 L671.7,450.5 L671.8,449.3 L671.8,448.2 L671.9,447.1 L672.0,445.9 L672.0,444.8 L672.1,443.7 L672.1,442.5 L672.2,441.4 L672.3,440.3 L672.3,439.1 L672.4,438.0 L672.4,436.8 L672.5,435.7 L672.6,434.5 L672.6,433.4 L672.7,432.2 L672.8,431.0 L672.8,429.9 L672.9,428.7 L673.0,427.5 L673.0,426.2 L673.1,425.0 L673.2,423.9 L673.2,422.8 L673.3,421.6 L673.4,420.5 L673.4,419.3 L673.5,418.2 L673.6,417.0 L673.6,415.8 L673.7,414.6 L673.8,413.5 L673.9,412.3 L673.9,411.1 L674.0,409.9 L674.1,408.7 L674.2,407.5 L674.2,406.3 L674.3,405.1 L674.4,403.9 L674.5,402.7 L674.5,401.5 L674.6,400.3 L674.7,399.1 L674.8,397.8 L674.9,396.6 L675.0,395.4 L675.0,394.2 L675.1,393.0 L675.2,391.8 L675.3,390.6 L675.4,389.5 L675.5,388.3 L675.6,387.1 L675.7,385.9 L675.8,384.7 L675.9,383.6 L675.9,382.4 L676.0,381.3 L676.1,380.1 L676.2,379.0 L676.3,377.9 L676.4,376.7 L676.5,375.6 L676.7,374.3 L676.8,373.1 L676.9,371.9 L677.0,370.6 L677.1,369.4 L677.2,368.1 L677.3,366.9 L677.4,365.6 L677.6,364.4 L677.7,363.2 L677.8,361.9 L677.9,360.7 L678.0,359.5 L678.1,358.3 L678.2,357.1 L678.4,355.9 L678.5,354.7 L678.6,353.5 L678.8,352.3 L678.9,351.2 L679.0,350.0 L679.2,348.9 L679.3,347.7 L679.5,346.6 L679.6,345.5 L679.8,344.4 L679.9,343.3 L680.1,342.2 L680.3,341.1 L680.4,340.1 L680.6,339.0 L680.8,338.0 L681.0,337.0 L681.2,335.7 L681.5,334.4 L681.7,333.1 L682.0,331.9 L682.2,330.6 L682.5,329.4 L682.8,328.2 L683.0,326.9 L683.3,325.8 L683.6,324.6 L683.9,323.5 L684.2,322.3 L684.5,321.3 L684.9,320.2 L685.2,319.2 L685.6,318.2 L686.0,317.2 L686.4,316.3 L686.8,315.5 L687.3,314.5 L688.0,313.5 L688.8,312.6 L689.6,311.8 L690.4,311.0 L691.2,310.3 L692.0,309.6 L692.8,308.8 L693.5,308.0 L694.2,307.2 L694.8,306.2 L695.2,305.2 L695.6,304.2 L696.0,303.2 L696.3,302.1 L696.6,301.0 L696.9,299.9 L697.2,298.7 L697.4,297.6 L697.7,296.5 L697.9,295.3 L698.2,294.2 L698.5,293.1 L698.8,292.0 L699.1,290.9 L699.3,289.7 L699.6,288.5 L699.8,287.3 L700.0,286.1 L700.3,285.0 L700.6,283.9 L700.9,282.9 L701.3,281.9 L701.8,281.1 L702.5,280.2 L703.2,279.4 L704.1,278.6 L705.0,278.0 L705.9,277.4 L706.9,277.0 L707.9,276.6 L708.9,276.5 L709.9,276.4 L711.0,276.6 L712.1,276.8 L713.2,277.1 L714.3,277.5 L715.5,277.9 L716.6,278.3 L717.7,278.7 L718.7,279.0 L719.8,279.4 L720.8,279.8 L721.8,280.2 L722.8,280.6 L723.8,281.0 L724.8,281.3 L725.8,281.5 L726.9,281.5 L728.0,281.4 L729.1,281.2 L730.2,280.9 L731.3,280.6 L732.4,280.3 L733.5,280.0 L734.6,279.7 L735.6,279.4 L736.7,279.0 L737.9,278.6 L739.0,278.2 L740.1,277.9 L741.1,277.7 L742.2,277.7 L743.1,278.0 L744.1,278.4 L744.9,278.9 L745.8,279.6 L746.6,280.4 L747.5,281.2 L748.4,282.0 L749.3,282.8 L750.1,283.4 L750.9,284.1 L751.8,284.8 L752.7,285.6 L753.5,286.3 L754.4,287.1 L755.3,287.9 L756.1,288.7 L757.0,289.5 L757.8,290.3 L758.6,291.2 L759.3,292.1 L759.9,293.0 L760.6,293.8 L761.3,294.8 L761.9,295.7 L762.5,296.7 L763.1,297.6 L763.7,298.6 L764.3,299.6 L764.8,300.6 L765.4,301.6 L765.9,302.6 L766.5,303.6 L767.0,304.6 L767.5,305.6 L768.0,306.6 L768.4,307.6 L768.9,308.6 L769.4,309.7 L769.8,310.7 L770.3,311.8 L770.7,312.8 L771.1,313.9 L771.5,315.0 L771.9,316.1 L772.3,317.2 L772.7,318.3 L773.1,319.4 L773.5,320.7 L773.9,322.0 L774.4,323.4 L774.8,324.9 L775.2,326.3 L775.6,327.8 L776.0,329.2 L776.3,330.5 L776.6,331.7 L776.9,332.8 L777.2,333.7 L777.4,334.5 L777.5,335.0 L777.6,335.3 L777.6,335.4" fill="none" stroke="#f06c22" stroke-width="7.2" stroke-linejoin="round" stroke-linecap="round"/>
<g fill="#fff" stroke="#f06c22" stroke-width="1.2"><circle cx="117.7" cy="337.4" r="5.3"/><circle cx="133.9" cy="463.0" r="5.3"/><circle cx="149.4" cy="362.6" r="5.3"/><circle cx="165.7" cy="343.5" r="5.3"/><circle cx="179.8" cy="365.0" r="5.3"/><circle cx="197.3" cy="442.8" r="5.3"/><circle cx="244.2" cy="410.2" r="5.3"/><circle cx="260.0" cy="425.3" r="5.3"/><circle cx="275.6" cy="384.6" r="5.3"/><circle cx="291.1" cy="311.6" r="5.3"/><circle cx="306.3" cy="271.0" r="5.3"/><circle cx="323.1" cy="271.0" r="5.3"/><circle cx="336.4" cy="286.5" r="5.3"/><circle cx="354.7" cy="346.8" r="5.3"/><circle cx="370.8" cy="542.8" r="5.3"/><circle cx="386.6" cy="425.3" r="5.3"/><circle cx="402.4" cy="371.4" r="5.3"/><circle cx="419.2" cy="302.3" r="5.3"/><circle cx="436.0" cy="286.5" r="5.3"/><circle cx="449.3" cy="300.3" r="5.3"/><circle cx="464.3" cy="338.0" r="5.3"/><circle cx="481.9" cy="359.0" r="5.3"/><circle cx="496.9" cy="398.2" r="5.3"/><circle cx="512.3" cy="424.0" r="5.3"/><circle cx="528.9" cy="434.1" r="5.3"/><circle cx="544.5" cy="375.5" r="5.3"/><circle cx="560.8" cy="330.9" r="5.3"/><circle cx="575.8" cy="304.1" r="5.3"/><circle cx="591.6" cy="267.7" r="5.3"/><circle cx="607.9" cy="260.2" r="5.3"/><circle cx="623.5" cy="267.7" r="5.3"/><circle cx="639.8" cy="285.3" r="5.3"/><circle cx="655.2" cy="374.5" r="5.3"/><circle cx="671.1" cy="464.5" r="5.3"/><circle cx="687.1" cy="314.9" r="5.3"/><circle cx="702.0" cy="280.8" r="5.3"/><circle cx="718.7" cy="279.0" r="5.3"/><circle cx="734.2" cy="279.8" r="5.3"/><circle cx="749.3" cy="282.8" r="5.3"/><circle cx="766.3" cy="303.3" r="5.3"/></g>
<path clip-path="url(#pc)" d="M117.7,284.0 C117.7,284.0 129.1,274.8 133.9,268.2 C139.8,260.2 143.7,245.3 148.9,238.1 C152.4,233.3 156.7,227.5 159.7,227.6 C162.0,227.6 163.9,230.6 165.7,233.9 C169.5,240.8 172.7,257.0 175.2,270.2 C178.1,285.5 179.1,304.2 181.0,320.4 C182.8,335.7 184.9,351.0 186.5,365.0 C187.9,377.4 188.9,389.9 190.0,400.0 C190.8,407.7 191.5,420.3 192.3,420.3 C193.0,420.3 193.8,410.2 194.5,405.0 C195.2,399.6 195.8,394.4 196.7,388.5 C197.7,381.8 198.8,373.1 200.1,366.9 C201.1,362.2 201.9,357.5 203.5,354.5 C204.6,352.4 206.1,350.7 207.5,349.8 C208.6,349.1 209.8,348.8 210.8,348.8 C211.6,348.8 212.3,349.2 213.0,349.6 C213.8,350.1 214.7,350.5 215.5,351.5 C216.8,353.3 217.6,357.4 218.9,360.2 C220.1,362.9 221.2,366.1 222.9,368.0 C224.2,369.5 225.9,371.0 227.6,371.0 C229.5,371.0 231.7,368.8 233.6,367.6 C235.5,366.4 237.3,365.6 239.0,364.0 C241.0,362.1 242.8,359.7 244.4,356.8 C246.4,353.3 247.8,348.0 249.7,344.1 C251.4,340.7 253.0,337.0 255.1,334.7 C256.7,332.8 258.7,330.6 260.5,330.6 C262.3,330.6 264.2,332.9 265.8,334.7 C267.9,337.1 269.5,340.9 271.2,344.1 C273.0,347.4 274.9,350.6 276.4,354.2 C278.1,358.1 279.0,363.5 280.6,366.9 C281.8,369.5 283.4,373.3 284.6,373.2 C285.9,373.1 286.9,368.6 287.9,365.6 C289.3,361.4 290.6,355.6 291.8,350.4 C293.1,344.9 294.1,339.9 295.3,333.4 C296.9,324.7 298.4,312.3 300.5,303.0 C302.4,294.8 304.4,287.4 307.0,280.3 C309.4,273.8 312.9,266.3 315.3,262.0 C316.7,259.4 317.8,257.7 319.3,256.2 C320.5,255.0 321.8,253.4 323.1,253.5 C324.4,253.6 325.8,255.3 327.0,256.8 C328.6,258.8 329.7,262.0 331.4,265.2 C333.7,269.6 336.9,274.9 339.4,280.8 C342.4,288.0 345.1,297.4 347.7,305.3 C350.2,312.7 351.9,321.9 354.7,326.7 C356.4,329.6 358.4,332.8 360.2,332.9 C361.9,333.0 363.6,330.0 365.2,327.9 C367.2,325.2 369.0,321.8 370.8,317.9 C373.2,312.9 375.4,306.2 377.8,300.3 C380.2,294.3 381.9,286.4 385.3,282.3 C387.8,279.3 391.2,276.6 394.1,276.5 C396.9,276.4 399.9,279.2 402.4,281.5 C405.4,284.3 407.5,289.7 410.4,292.8 C412.9,295.4 415.8,299.2 418.4,299.1 C421.2,299.0 424.1,294.3 426.7,291.5 C429.4,288.5 431.7,283.3 434.2,281.5 C435.9,280.3 437.3,279.6 439.2,279.8 C442.3,280.1 447.3,283.4 450.5,286.5 C454.1,290.0 456.7,295.3 459.3,300.3 C462.0,305.6 464.1,311.2 466.3,317.4 C468.8,324.5 470.9,331.7 473.1,340.5 C475.9,351.9 478.5,367.3 481.1,380.1 C483.5,392.2 485.2,404.3 488.1,415.2 C490.6,424.9 494.2,434.4 497.0,442.3 C499.2,448.6 500.8,457.6 503.5,459.0 C504.9,459.7 506.6,458.7 508.0,458.0 C509.6,457.2 511.2,453.9 512.6,454.1 C514.2,454.3 515.5,457.7 517.0,460.0 C518.9,462.9 520.6,470.3 522.6,470.4 C524.6,470.5 526.9,464.6 528.9,460.4 C532.0,454.1 533.9,440.6 537.7,435.3 C540.0,432.0 543.6,428.5 545.7,429.0 C547.7,429.5 548.9,434.7 550.0,438.0 C551.2,441.6 551.8,445.1 552.5,450.0 C553.6,457.7 554.2,469.6 555.0,480.0 C555.9,491.2 556.8,503.3 557.5,515.0 C558.2,526.7 558.5,537.9 559.0,550.0 C559.5,562.9 559.9,590.0 560.3,590.0 C560.7,590.0 560.9,570.2 561.5,560.0 C562.1,549.5 563.3,539.0 564.0,527.8 C564.8,515.7 565.4,502.5 566.0,490.0 C566.6,477.6 567.0,466.9 567.8,452.9 C568.8,434.7 569.9,409.0 571.5,390.2 C572.8,374.8 574.2,361.7 576.0,348.3 C577.6,336.0 578.9,324.4 581.6,312.9 C584.2,301.7 587.6,288.4 591.6,280.3 C594.3,274.9 597.1,270.1 600.4,267.7 C602.7,266.0 605.7,264.3 607.9,265.2 C611.1,266.5 613.2,273.9 615.4,280.3 C618.8,290.2 621.5,308.1 623.7,319.9 C625.5,329.3 626.8,336.0 628.0,345.5 C629.5,357.2 630.6,370.7 631.5,385.0 C632.6,401.8 632.9,421.3 633.7,440.0 C634.6,459.6 635.6,480.0 636.6,500.0 C637.6,520.0 638.5,543.1 639.7,560.0 C640.6,572.3 641.6,592.0 642.5,592.0 C643.3,592.0 644.1,571.6 644.8,560.0 C645.6,546.3 646.0,530.4 646.8,515.0 C647.7,498.8 649.1,478.8 650.0,465.0 C650.6,455.2 651.1,448.7 651.6,440.0 C652.2,430.5 652.7,420.4 653.3,410.0 C654.0,398.8 654.2,385.7 655.6,375.1 C656.8,366.0 658.9,357.5 660.8,350.0 C662.4,343.9 664.1,337.5 665.8,333.5 C666.8,331.1 667.7,329.3 668.8,328.0 C669.6,327.1 670.5,326.1 671.3,326.2 C672.2,326.3 673.2,328.0 674.0,329.5 C675.3,331.9 676.3,336.1 677.3,340.1 C678.6,345.1 679.9,351.2 680.9,357.3 C682.0,364.0 682.8,370.4 683.7,378.8 C685.0,390.6 686.3,407.0 687.4,421.5 C688.6,436.7 689.6,452.0 690.5,468.0 C691.5,485.2 692.3,521.5 693.2,521.5 C694.1,521.5 695.2,486.3 696.1,468.0 C697.0,448.6 697.3,427.8 698.5,408.0 C699.6,388.7 701.2,367.8 702.9,350.7 C704.3,336.8 705.2,326.3 707.4,312.9 C710.0,297.3 714.3,275.5 718.2,262.7 C720.7,254.4 723.8,247.6 726.2,242.6 C727.7,239.5 728.8,237.1 730.5,235.2 C731.9,233.6 733.5,231.8 735.0,231.6 C736.3,231.4 737.8,232.5 739.0,233.5 C740.4,234.6 741.3,235.7 742.5,238.0 C745.0,242.8 748.2,253.3 750.5,262.7 C753.5,274.9 755.1,290.3 757.5,305.3 C760.2,321.9 763.4,342.0 765.8,358.0 C767.9,371.5 769.3,383.0 771.3,395.2 C773.2,407.1 777.6,430.3 777.6,430.3" fill="none" stroke="#2e6b9e" stroke-width="7.2" stroke-linejoin="round" stroke-linecap="round"/>
<g fill="#2e6b9e"><circle cx="117.7" cy="284.0" r="5.8"/><circle cx="133.9" cy="268.2" r="5.8"/><circle cx="148.9" cy="238.1" r="5.8"/><circle cx="159.7" cy="227.6" r="5.8"/><circle cx="165.7" cy="233.9" r="5.8"/><circle cx="181.0" cy="320.4" r="5.8"/><circle cx="196.7" cy="388.5" r="5.8"/><circle cx="212.2" cy="349.6" r="5.8"/><circle cx="227.8" cy="371.0" r="5.8"/><circle cx="244.4" cy="356.8" r="5.8"/><circle cx="260.5" cy="330.6" r="5.8"/><circle cx="276.4" cy="354.2" r="5.8"/><circle cx="291.8" cy="350.4" r="5.8"/><circle cx="307.0" cy="280.3" r="5.8"/><circle cx="323.1" cy="253.5" r="5.8"/><circle cx="339.4" cy="280.8" r="5.8"/><circle cx="354.7" cy="326.7" r="5.8"/><circle cx="370.8" cy="317.9" r="5.8"/><circle cx="385.3" cy="282.3" r="5.8"/><circle cx="394.1" cy="276.5" r="5.8"/><circle cx="402.4" cy="281.5" r="5.8"/><circle cx="418.4" cy="299.1" r="5.8"/><circle cx="434.2" cy="281.5" r="5.8"/><circle cx="450.5" cy="286.5" r="5.8"/><circle cx="466.3" cy="317.4" r="5.8"/><circle cx="481.1" cy="380.1" r="5.8"/><circle cx="497.0" cy="442.3" r="5.8"/><circle cx="512.6" cy="454.1" r="5.8"/><circle cx="528.9" cy="460.4" r="5.8"/><circle cx="545.7" cy="429.0" r="5.8"/><circle cx="560.3" cy="590.0" r="5.8"/><circle cx="576.0" cy="348.3" r="5.8"/><circle cx="591.6" cy="280.3" r="5.8"/><circle cx="607.9" cy="265.2" r="5.8"/><circle cx="623.7" cy="319.9" r="5.8"/><circle cx="639.0" cy="581.7" r="5.8"/><circle cx="655.6" cy="375.1" r="5.8"/><circle cx="671.3" cy="327.4" r="5.8"/><circle cx="687.4" cy="421.5" r="5.8"/><circle cx="702.9" cy="350.7" r="5.8"/><circle cx="718.2" cy="262.7" r="5.8"/><circle cx="735.0" cy="231.4" r="5.8"/><circle cx="750.5" cy="262.7" r="5.8"/><circle cx="765.8" cy="358.0" r="5.8"/></g>
<g stroke="#000" stroke-width="2.5" fill="none" stroke-linecap="butt">
<rect x="117.7" y="63.5" width="658.6" height="528.7"/>
<path d="M117.7,63.5H106.5"/>
<path d="M117.7,129.6H111.7"/>
<path d="M117.7,195.7H106.5"/>
<path d="M117.7,261.8H111.7"/>
<path d="M117.7,327.9H106.5"/>
<path d="M117.7,393.9H111.7"/>
<path d="M117.7,460.0H106.5"/>
<path d="M117.7,526.1H111.7"/>
<path d="M117.7,592.2H106.5"/>
<path d="M776.3,63.5H787.1"/>
<path d="M776.3,89.9H781.9"/>
<path d="M776.3,116.4H787.1"/>
<path d="M776.3,142.8H781.9"/>
<path d="M776.3,169.2H787.1"/>
<path d="M776.3,195.7H781.9"/>
<path d="M776.3,222.1H787.1"/>
<path d="M776.3,248.5H781.9"/>
<path d="M776.3,275.0H787.1"/>
<path d="M776.3,301.4H781.9"/>
<path d="M776.3,327.9H787.1"/>
<path d="M776.3,354.3H781.9"/>
<path d="M776.3,380.7H787.1"/>
<path d="M776.3,407.2H781.9"/>
<path d="M776.3,433.6H787.1"/>
<path d="M776.3,460.0H781.9"/>
<path d="M776.3,486.5H787.1"/>
<path d="M776.3,512.9H781.9"/>
<path d="M776.3,539.3H787.1"/>
<path d="M776.3,565.8H781.9"/>
<path d="M776.3,592.2H787.1"/>
<path d="M117.7,592.2V603.2"/>
<path d="M183.6,592.2V598.2"/>
<path d="M249.4,592.2V603.2"/>
<path d="M315.3,592.2V598.2"/>
<path d="M381.1,592.2V603.2"/>
<path d="M447.0,592.2V598.2"/>
<path d="M512.9,592.2V603.2"/>
<path d="M578.7,592.2V598.2"/>
<path d="M644.6,592.2V603.2"/>
<path d="M710.4,592.2V598.2"/>
<path d="M776.3,592.2V603.2"/>
</g>
<path d="M125,13.5H214" stroke="#c9c9c9" stroke-width="6.6" stroke-linecap="round"/><circle cx="169.3" cy="13.5" r="5.9" fill="#c9c9c9"/>
<path d="M478,17H567" stroke="#1e7d41" stroke-width="6.6" stroke-linecap="round"/><circle cx="522.7" cy="17" r="5.9" fill="#1e7d41"/>
<path d="M135,521.4H223.7" stroke="#f06c22" stroke-width="6.9" stroke-linecap="round"/><circle cx="179.4" cy="521.4" r="5.4" fill="#fff" stroke="#f06c22" stroke-width="1.2"/>
<path d="M135,570.6H223.7" stroke="#2e6b9e" stroke-width="6.9" stroke-linecap="round"/><circle cx="179.4" cy="570.6" r="5.8" fill="#2e6b9e"/>
<text transform="translate(234.9,26.8) scale(1,1.020)" font-size="36.2" stroke="#000" stroke-width="0.6" stroke-linejoin="round" letter-spacing="0.22">Sim. wo. A.M.</text>
<text transform="translate(583.0,26.8) scale(1,1.020)" font-size="36.2" stroke="#000" stroke-width="0.6" stroke-linejoin="round" letter-spacing="0.45">Mea.w. A.M.</text>
<text transform="translate(245.5,536.0) scale(1,1.020)" font-size="36.2" stroke="#000" stroke-width="0.6" stroke-linejoin="round">Sim.</text>
<text transform="translate(245.8,585.5) scale(1,1.020)" font-size="36.2" stroke="#000" stroke-width="0.6" stroke-linejoin="round">Mea.</text>
<text transform="translate(324.8,689.7) scale(1,1.020)" font-size="36.2" stroke="#000" stroke-width="0.6" stroke-linejoin="round">Frequency(GHz)</text>
<text transform="translate(27.9,397.6) rotate(-90) scale(1,1.075)" font-size="36.2" stroke="#000" stroke-width="0.6" stroke-linejoin="round"><tspan dy="-8.6">|</tspan><tspan dy="8.6">S</tspan><tspan font-size="24" dy="3.4">11</tspan><tspan dy="-12">|</tspan><tspan dy="8.6">(dBc)</tspan></text>
<text transform="translate(888.3,465.5) rotate(-90) scale(1,1.060)" font-size="36.2" stroke="#000" stroke-width="0.6" stroke-linejoin="round">Side lobe level(dB)</text>
<text transform="translate(108.3,74.9) scale(1,1.022)" font-size="35.2" stroke="#000" stroke-width="0.6" stroke-linejoin="round" text-anchor="end">0</text>
<text transform="translate(108.3,207.3) scale(1,1.022)" font-size="35.2" stroke="#000" stroke-width="0.6" stroke-linejoin="round" text-anchor="end">-10</text>
<text transform="translate(108.3,339.8) scale(1,1.022)" font-size="35.2" stroke="#000" stroke-width="0.6" stroke-linejoin="round" text-anchor="end">-20</text>
<text transform="translate(108.3,472.2) scale(1,1.022)" font-size="35.2" stroke="#000" stroke-width="0.6" stroke-linejoin="round" text-anchor="end">-30</text>
<text transform="translate(108.3,604.6) scale(1,1.022)" font-size="35.2" stroke="#000" stroke-width="0.6" stroke-linejoin="round" text-anchor="end">-40</text>
<text transform="translate(803.3,74.0) scale(1,1.022)" font-size="35.2" stroke="#000" stroke-width="0.6" stroke-linejoin="round">-10</text>
<text transform="translate(803.3,127.1) scale(1,1.022)" font-size="35.2" stroke="#000" stroke-width="0.6" stroke-linejoin="round">-15</text>
<text transform="translate(803.3,180.2) scale(1,1.022)" font-size="35.2" stroke="#000" stroke-width="0.6" stroke-linejoin="round">-20</text>
<text transform="translate(803.3,233.2) scale(1,1.022)" font-size="35.2" stroke="#000" stroke-width="0.6" stroke-linejoin="round">-25</text>
<text transform="translate(803.3,286.3) scale(1,1.022)" font-size="35.2" stroke="#000" stroke-width="0.6" stroke-linejoin="round">-30</text>
<text transform="translate(803.3,339.4) scale(1,1.022)" font-size="35.2" stroke="#000" stroke-width="0.6" stroke-linejoin="round">-35</text>
<text transform="translate(803.3,392.5) scale(1,1.022)" font-size="35.2" stroke="#000" stroke-width="0.6" stroke-linejoin="round">-40</text>
<text transform="translate(803.3,445.6) scale(1,1.022)" font-size="35.2" stroke="#000" stroke-width="0.6" stroke-linejoin="round">-45</text>
<text transform="translate(803.3,498.6) scale(1,1.022)" font-size="35.2" stroke="#000" stroke-width="0.6" stroke-linejoin="round">-50</text>
<text transform="translate(803.3,551.7) scale(1,1.022)" font-size="35.2" stroke="#000" stroke-width="0.6" stroke-linejoin="round">-55</text>
<text transform="translate(803.3,604.8) scale(1,1.022)" font-size="35.2" stroke="#000" stroke-width="0.6" stroke-linejoin="round">-60</text>
<text transform="translate(106.9,638.6) scale(1,1.022)" font-size="35.2" stroke="#000" stroke-width="0.6" stroke-linejoin="round">12</text>
<text transform="translate(238.6,638.6) scale(1,1.022)" font-size="35.2" stroke="#000" stroke-width="0.6" stroke-linejoin="round">13</text>
<text transform="translate(370.3,638.6) scale(1,1.022)" font-size="35.2" stroke="#000" stroke-width="0.6" stroke-linejoin="round">14</text>
<text transform="translate(502.1,638.6) scale(1,1.022)" font-size="35.2" stroke="#000" stroke-width="0.6" stroke-linejoin="round">15</text>
<text transform="translate(633.8,638.6) scale(1,1.022)" font-size="35.2" stroke="#000" stroke-width="0.6" stroke-linejoin="round">16</text>
<text transform="translate(765.5,638.6) scale(1,1.022)" font-size="35.2" stroke="#000" stroke-width="0.6" stroke-linejoin="round">17</text>
</svg>
</body></html>
